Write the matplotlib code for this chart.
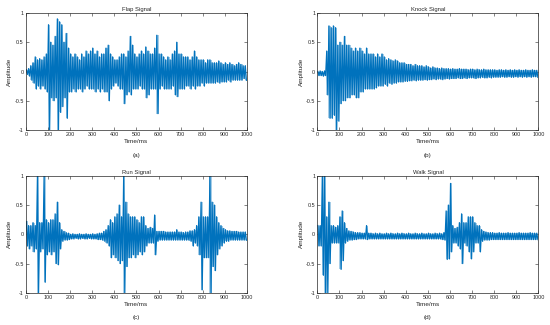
import numpy as np
import matplotlib
matplotlib.use("Agg")
import matplotlib.pyplot as plt

plt.rcParams["font.family"] = ["Liberation Sans", "DejaVu Sans"]

# time bins (ms), each 10 ms wide; hi / lo = upper and lower signal peaks read per bin
time_ms = np.arange(0, 1000, 10)

flap_hi = [0.03, 0.05, 0.10, 0.15, 0.25, 0.20, 0.22, 0.20, 0.25, 0.30,
           0.80, 0.50, 0.45, 0.60, 0.90, 0.85, 0.80, 0.50, 0.65, 0.40,
           0.30, 0.25, 0.30, 0.25, 0.20, 0.30, 0.25, 0.35, 0.30, 0.35,
           0.40, 0.30, 0.35, 0.25, 0.30, 0.30, 0.40, 0.45, 0.30, 0.25,
           0.20, 0.20, 0.25, 0.30, 0.30, 0.25, 0.35, 0.60, 0.45, 0.30,
           0.25, 0.30, 0.35, 0.30, 0.42, 0.35, 0.30, 0.30, 0.40, 0.62,
           0.30, 0.30, 0.25, 0.20, 0.25, 0.20, 0.30, 0.35, 0.50, 0.30,
           0.30, 0.25, 0.25, 0.25, 0.20, 0.25, 0.35, 0.25, 0.20, 0.20,
           0.20, 0.15, 0.20, 0.20, 0.15, 0.15, 0.15, 0.18, 0.15, 0.12,
           0.15, 0.12, 0.15, 0.12, 0.10, 0.12, 0.15, 0.12, 0.10, 0.10]
flap_lo = [-0.05, -0.08, -0.15, -0.20, -0.30, -0.25, -0.30, -0.25, -0.30, -0.35,
           -1.00, -0.45, -0.50, -0.45, -1.00, -0.70, -0.60, -0.45, -0.80, -0.35,
           -0.35, -0.30, -0.35, -0.30, -0.30, -0.35, -0.30, -0.25, -0.30, -0.30,
           -0.30, -0.35, -0.30, -0.35, -0.30, -0.35, -0.35, -0.50, -0.30, -0.25,
           -0.20, -0.25, -0.30, -0.30, -0.55, -0.40, -0.35, -0.40, -0.30, -0.30,
           -0.30, -0.25, -0.30, -0.30, -0.45, -0.40, -0.30, -0.30, -0.30, -0.72,
           -0.30, -0.25, -0.30, -0.30, -0.30, -0.30, -0.25, -0.40, -0.43, -0.30,
           -0.30, -0.30, -0.25, -0.25, -0.30, -0.25, -0.30, -0.25, -0.25, -0.20,
           -0.25, -0.20, -0.20, -0.20, -0.20, -0.20, -0.18, -0.20, -0.18, -0.18,
           -0.18, -0.15, -0.18, -0.15, -0.15, -0.15, -0.15, -0.15, -0.12, -0.15]

knock_hi = [0.00, 0.01, 0.00, 0.01, 0.35, 0.78, 0.75, 0.78, 0.75, 0.45,
            0.50, 0.45, 0.60, 0.45, 0.45, 0.40, 0.35, 0.40, 0.35, 0.40,
            0.35, 0.30, 0.40, 0.30, 0.30, 0.30, 0.25, 0.30, 0.25, 0.30,
            0.25, 0.20, 0.22, 0.20, 0.18, 0.20, 0.18, 0.15, 0.15, 0.15,
            0.12, 0.12, 0.12, 0.10, 0.12, 0.10, 0.10, 0.10, 0.08, 0.10,
            0.08, 0.06, 0.08, 0.06, 0.06, 0.05, 0.06, 0.05, 0.05, 0.05,
            0.04, 0.05, 0.04, 0.04, 0.05, 0.04, 0.04, 0.04, 0.03, 0.04,
            0.04, 0.03, 0.04, 0.03, 0.03, 0.04, 0.03, 0.03, 0.03, 0.03,
            0.03, 0.02, 0.03, 0.03, 0.02, 0.03, 0.02, 0.03, 0.02, 0.03,
            0.02, 0.03, 0.02, 0.02, 0.03, 0.02, 0.02, 0.03, 0.02, 0.02]
knock_lo = [-0.07, -0.07, -0.08, -0.07, -0.40, -0.80, -0.80, -0.75, -1.00, -0.85,
            -0.55, -0.50, -0.50, -0.45, -0.45, -0.40, -0.40, -0.45, -0.45, -0.35,
            -0.35, -0.30, -0.30, -0.30, -0.30, -0.30, -0.28, -0.25, -0.25, -0.25,
            -0.22, -0.25, -0.20, -0.22, -0.20, -0.20, -0.18, -0.18, -0.18, -0.17,
            -0.17, -0.16, -0.16, -0.15, -0.16, -0.15, -0.15, -0.15, -0.14, -0.15,
            -0.14, -0.14, -0.13, -0.14, -0.13, -0.13, -0.14, -0.13, -0.12, -0.13,
            -0.12, -0.12, -0.12, -0.11, -0.12, -0.12, -0.11, -0.12, -0.11, -0.11,
            -0.11, -0.12, -0.11, -0.11, -0.10, -0.11, -0.11, -0.10, -0.11, -0.10,
            -0.10, -0.10, -0.10, -0.09, -0.10, -0.10, -0.09, -0.10, -0.10, -0.09,
            -0.10, -0.09, -0.10, -0.09, -0.10, -0.09, -0.10, -0.09, -0.09, -0.10]

run_hi = [0.22, 0.15, 0.15, 0.20, 0.15, 1.00, 0.20, 0.20, 1.00, 0.25,
          0.20, 0.25, 0.25, 0.35, 0.55, 0.20, 0.08, 0.05, 0.03, 0.02,
          0.00, 0.01, 0.00, 0.00, 0.01, 0.00, 0.00, 0.01, 0.00, 0.00,
          0.01, 0.00, 0.01, 0.02, 0.02, 0.05, 0.08, 0.15, 0.25, 0.20,
          0.30, 0.35, 0.50, 0.30, 1.00, 0.55, 0.35, 0.30, 0.30, 0.30,
          0.25, 0.20, 0.30, 0.30, 0.15, 0.10, 0.12, 0.10, 0.33, 0.05,
          0.05, 0.05, 0.05, 0.04, 0.04, 0.04, 0.04, 0.04, 0.08, 0.04,
          0.04, 0.03, 0.04, 0.04, 0.06, 0.06, 0.08, 0.15, 0.30, 0.55,
          0.30, 0.30, 0.30, 1.00, 0.55, 0.50, 0.30, 0.20, 0.15, 0.10,
          0.08, 0.06, 0.06, 0.05, 0.05, 0.05, 0.04, 0.04, 0.04, 0.04]
run_lo = [-0.20, -0.25, -0.20, -0.30, -0.25, -1.00, -0.30, -0.25, -0.82, -0.35,
          -0.30, -0.35, -0.30, -0.50, -0.52, -0.25, -0.12, -0.10, -0.10, -0.09,
          -0.08, -0.08, -0.07, -0.08, -0.08, -0.07, -0.08, -0.08, -0.07, -0.08,
          -0.08, -0.08, -0.09, -0.09, -0.10, -0.12, -0.15, -0.20, -0.40, -0.35,
          -0.40, -0.45, -0.50, -0.45, -1.00, -0.55, -0.40, -0.40, -0.35, -0.40,
          -0.35, -0.30, -0.35, -0.30, -0.20, -0.15, -0.15, -0.15, -0.35, -0.12,
          -0.10, -0.10, -0.10, -0.10, -0.10, -0.10, -0.10, -0.10, -0.10, -0.10,
          -0.10, -0.10, -0.10, -0.10, -0.12, -0.20, -0.15, -0.20, -0.35, -0.95,
          -0.40, -0.40, -0.40, -1.00, -0.55, -0.62, -0.35, -0.25, -0.20, -0.15,
          -0.12, -0.12, -0.10, -0.10, -0.10, -0.10, -0.10, -0.10, -0.10, -0.10]

walk_hi = [0.15, 0.15, 1.00, 1.00, 0.30, 0.55, 0.15, 0.15, 0.12, 0.15,
           0.30, 0.40, 0.20, 0.10, 0.06, 0.05, 0.04, 0.03, 0.03, 0.03,
           0.02, 0.02, 0.15, 0.02, 0.02, 0.01, 0.02, 0.01, 0.02, 0.01,
           0.01, 0.02, 0.01, 0.02, 0.01, 0.01, 0.02, 0.01, 0.02, 0.01,
           0.01, 0.02, 0.01, 0.01, 0.02, 0.01, 0.01, 0.02, 0.01, 0.01,
           0.02, 0.01, 0.01, 0.02, 0.01, 0.02, 0.01, 0.03, 0.40, 0.50,
           0.87, 0.15, 0.10, 0.12, 0.20, 0.35, 0.20, 0.20, 0.30, 0.30,
           0.30, 0.20, 0.15, 0.15, 0.08, 0.05, 0.04, 0.03, 0.03, 0.03,
           0.02, 0.02, 0.03, 0.02, 0.02, 0.02, 0.03, 0.02, 0.02, 0.02,
           0.02, 0.03, 0.02, 0.02, 0.02, 0.02, 0.03, 0.02, 0.02, 0.02]
walk_lo = [-0.20, -0.20, -0.70, -1.00, -1.00, -0.50, -0.15, -0.15, -0.15, -0.15,
           -0.60, -0.45, -0.15, -0.12, -0.10, -0.10, -0.09, -0.09, -0.08, -0.08,
           -0.08, -0.08, -0.09, -0.08, -0.08, -0.08, -0.08, -0.08, -0.08, -0.08,
           -0.08, -0.08, -0.08, -0.08, -0.08, -0.08, -0.08, -0.08, -0.08, -0.08,
           -0.08, -0.08, -0.08, -0.08, -0.08, -0.08, -0.08, -0.08, -0.08, -0.08,
           -0.08, -0.08, -0.08, -0.08, -0.08, -0.08, -0.09, -0.10, -0.43, -0.42,
           -0.30, -0.15, -0.15, -0.20, -0.25, -0.50, -0.15, -0.20, -0.30, -0.42,
           -0.30, -0.15, -0.15, -0.30, -0.12, -0.10, -0.10, -0.10, -0.09, -0.09,
           -0.09, -0.09, -0.09, -0.09, -0.09, -0.09, -0.09, -0.09, -0.09, -0.09,
           -0.09, -0.09, -0.09, -0.09, -0.09, -0.09, -0.09, -0.09, -0.09, -0.09]

titles = ["Flap Signal", "Knock Signal", "Run Signal", "Walk Signal"]
captions = ["(a)", "(b)", "(c)", "(d)"]
signals = [(flap_hi, flap_lo), (knock_hi, knock_lo), (run_hi, run_lo), (walk_hi, walk_lo)]

LINE_COLOR = "#0072BD"
AXES_BOX = [
    [0.047, 0.600, 0.402, 0.360],
    [0.577, 0.600, 0.402, 0.360],
    [0.047, 0.099, 0.402, 0.360],
    [0.577, 0.099, 0.402, 0.360],
]

fig = plt.figure(figsize=(5.5, 3.25), dpi=100)

for box, title, cap, (hi, lo) in zip(AXES_BOX, titles, captions, signals):
    ax = fig.add_axes(box)
    # light band under the trace so the dense waveform reads as a filled signal
    ax.fill_between(time_ms + 5, hi, lo, step="mid", color=LINE_COLOR,
                    alpha=0.35, linewidth=0)
    x = np.column_stack([time_ms + 2.5, time_ms + 7.5]).ravel()
    y = np.column_stack([hi, lo]).ravel()
    ax.plot(x, y, color=LINE_COLOR, linewidth=0.9)

    ax.set_xlim(0, 1000)
    ax.set_ylim(-1, 1)
    ax.set_xticks(np.arange(0, 1001, 100))
    ax.set_yticks([-1, -0.5, 0, 0.5, 1])
    ax.set_yticklabels(["-1", "-0.5", "0", "0.5", "1"])
    ax.tick_params(direction="in", length=2, width=0.4, labelsize=3.9,
                   pad=1.5, top=True, right=True, colors="#262626")
    for sp in ax.spines.values():
        sp.set_linewidth(0.5)
        sp.set_color("#262626")

    ax.set_title(title, fontsize=4.2, pad=1.5, color="#262626")
    ax.set_xlabel("Time/ms", fontsize=4.6, labelpad=1.5, color="#262626")
    ax.set_ylabel("Amplitude", fontsize=4.6, labelpad=1.5, color="#262626")
    ax.text(0.5, -0.215, cap, transform=ax.transAxes, ha="center", va="center",
            fontsize=4.6, color="#262626")

fig.savefig("out.png", dpi=100, facecolor="white")
